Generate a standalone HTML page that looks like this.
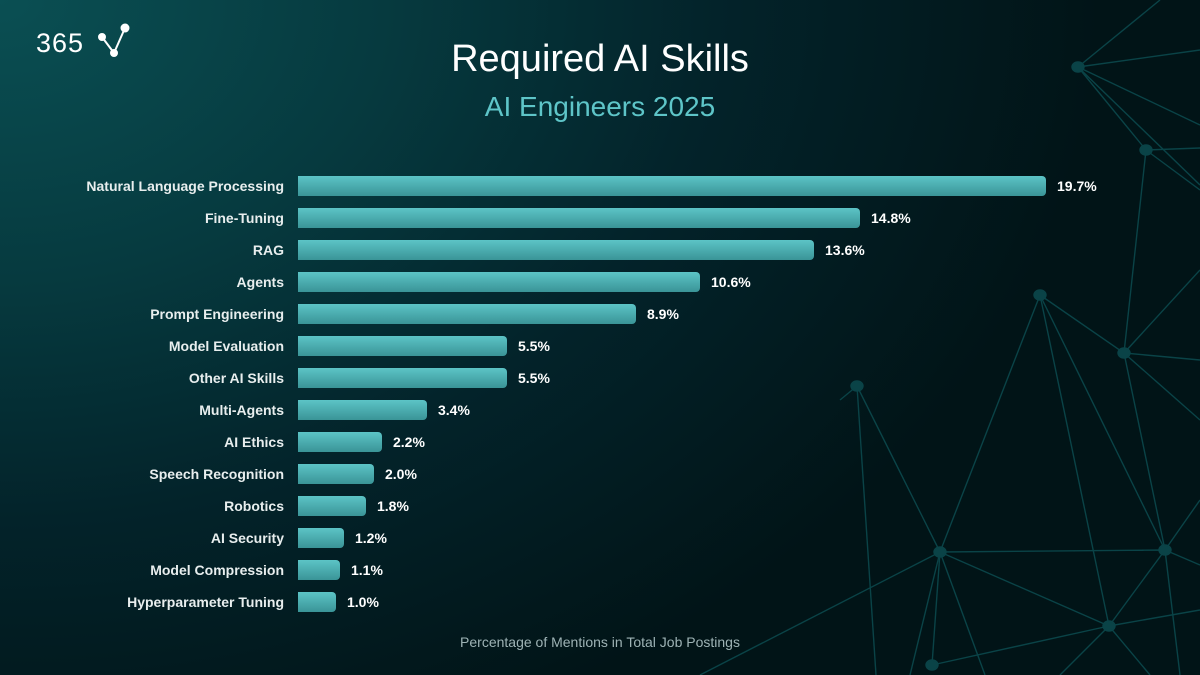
<!DOCTYPE html>
<html><head><meta charset="utf-8"><style>
html,body{margin:0;padding:0}
body{width:1200px;height:675px;overflow:hidden;position:relative;font-family:"Liberation Sans",sans-serif;
background:radial-gradient(ellipse 1100px 800px at 0% 0%,#0a4f53 0%,#063a3f 35%,#03232a 65%,#011417 100%);}
.t{position:absolute;left:0;width:1200px;text-align:center;}
.lab{position:absolute;right:916px;font-size:14px;font-weight:bold;color:#e8eeee;line-height:20px;white-space:nowrap}
.bar{position:absolute;left:298px;height:20px;border-radius:0 4px 4px 0;background:linear-gradient(#5cc4c6,#3a9497)}
.val{position:absolute;font-size:14px;font-weight:bold;color:#fff;line-height:20px}
</style></head><body>
<svg width="1200" height="675" style="position:absolute;left:0;top:0" stroke="#0a4347" stroke-width="1.4" fill="#0a4347">
<g fill="none">
<polyline points="1078,67 1160,0"/><polyline points="1078,67 1200,50"/><polyline points="1078,67 1200,125"/>
<polyline points="1078,67 1146,150 1200,148"/><polyline points="1078,67 1200,185"/><polyline points="1146,150 1200,190"/>
<polyline points="1146,150 1124,353 1200,360"/><polyline points="1124,353 1200,270"/>
<polyline points="1040,295 1124,353 1165,550"/><polyline points="1040,295 1165,550"/><polyline points="1124,353 1200,420"/>
<polyline points="1040,295 1109,626"/><polyline points="1040,295 940,552"/>
<polyline points="857,386 940,552"/><polyline points="857,386 876,675"/><polyline points="857,386 840,400"/>
<polyline points="940,552 1165,550 1109,626 940,552"/><polyline points="940,552 700,675"/><polyline points="940,552 932,665"/>
<polyline points="940,552 910,675"/><polyline points="940,552 985,675"/><polyline points="1165,550 1200,565"/><polyline points="1165,550 1200,500"/>
<polyline points="1165,550 1180,675"/><polyline points="1109,626 932,665"/><polyline points="1109,626 1200,610"/>
<polyline points="1109,626 1150,675"/><polyline points="1109,626 1060,675"/>
</g>
<ellipse cx="1078" cy="67" rx="6" ry="5"/><ellipse cx="1146" cy="150" rx="6" ry="5"/><ellipse cx="1040" cy="295" rx="6" ry="5"/><ellipse cx="1124" cy="353" rx="6" ry="5"/>
<ellipse cx="857" cy="386" rx="6" ry="5"/><ellipse cx="940" cy="552" rx="6" ry="5"/><ellipse cx="1165" cy="550" rx="6" ry="5"/><ellipse cx="1109" cy="626" rx="6" ry="5"/><ellipse cx="932" cy="665" rx="6" ry="5"/>
</svg>
<div style="position:absolute;left:36px;top:28px;font-size:27px;color:#fff;letter-spacing:1px">365</div>
<svg width="40" height="40" style="position:absolute;left:96px;top:20px" fill="#fff" stroke="#fff" stroke-width="2"><polyline points="6,17 18,33 29,8" fill="none"/><circle cx="6" cy="17" r="3"/><circle cx="18" cy="33" r="3"/><circle cx="29" cy="8" r="3.5"/></svg>
<div class="t" style="top:38px;font-size:38px;color:#fff">Required AI Skills</div>
<div class="t" style="top:91px;font-size:28px;color:#5ec5c8">AI Engineers 2025</div>
<div class="t" style="top:634px;font-size:14px;color:#9eb3b5">Percentage of Mentions in Total Job Postings</div>
<div id="c"></div>
<script>
var d=[["Natural Language Processing",19.7],["Fine-Tuning",14.8],["RAG",13.6],["Agents",10.6],["Prompt Engineering",8.9],["Model Evaluation",5.5],["Other AI Skills",5.5],["Multi-Agents",3.4],["AI Ethics",2.2],["Speech Recognition",2.0],["Robotics",1.8],["AI Security",1.2],["Model Compression",1.1],["Hyperparameter Tuning",1.0]];
var h="";d.forEach(function(r,i){var y=176+i*32,w=Math.round(r[1]*37.97);
h+='<div class="lab" style="top:'+y+'px">'+r[0]+'</div><div class="bar" style="top:'+y+'px;width:'+w+'px"></div><div class="val" style="top:'+y+'px;left:'+(298+w+11)+'px">'+r[1].toFixed(1)+'%</div>';});
document.getElementById("c").innerHTML=h;
</script>
</body></html>
